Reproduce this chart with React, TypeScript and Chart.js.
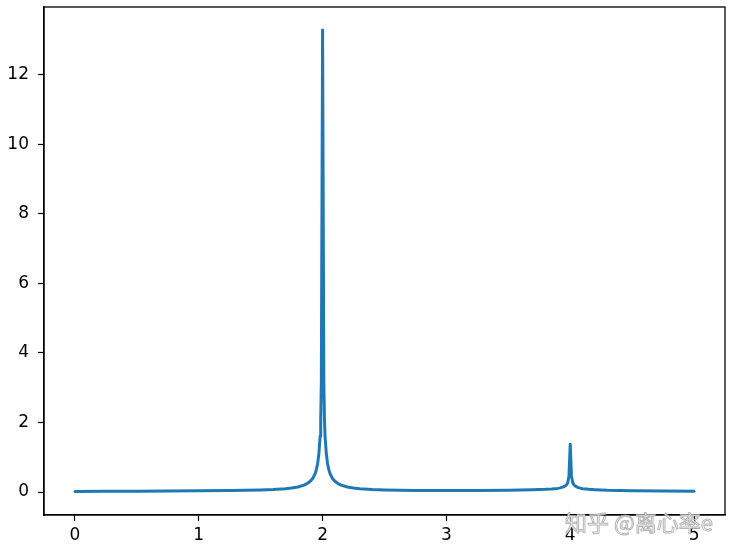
import React, { useEffect, useRef } from "react";
import { Chart, registerables } from "chart.js";

Chart.register(...registerables);

const xValues = [
  0, 0.25, 0.5, 0.75, 1.0, 1.25, 1.5, 1.6, 1.7, 1.75, 1.8, 1.85, 1.875, 1.9, 1.92, 1.94, 1.95, 1.96, 1.97, 1.98,
  1.985, 1.99, 2.0, 2.01, 2.015, 2.02, 2.03, 2.04, 2.05, 2.06, 2.08, 2.1, 2.125, 2.15, 2.2, 2.25,
  2.3, 2.4, 2.5, 2.75, 3.0, 3.25, 3.5, 3.6, 3.7, 3.8, 3.85, 3.9, 3.92, 3.94, 3.96, 3.97, 3.98, 3.99, 4.0,
  4.01, 4.02, 4.03, 4.04, 4.06, 4.08, 4.1, 4.15, 4.2, 4.3, 4.5, 4.75, 5.0,
];
const yValues = [
  0.018, 0.02, 0.023, 0.027, 0.035, 0.043, 0.057, 0.07, 0.095, 0.115, 0.145, 0.2, 0.24, 0.31, 0.39, 0.53, 0.65,
  0.82, 1.1, 1.6, 2.1, 3.2, 13.28, 3.2, 2.1, 1.6, 1.1, 0.82, 0.65, 0.53, 0.39, 0.31, 0.24, 0.2, 0.145,
  0.115, 0.095, 0.072, 0.06, 0.047, 0.043, 0.045, 0.052, 0.057, 0.064, 0.077, 0.088, 0.105, 0.12, 0.14, 0.175,
  0.21, 0.27, 0.47, 1.37, 0.47, 0.27, 0.21, 0.175, 0.135, 0.112, 0.097, 0.077, 0.066, 0.051, 0.039,
  0.031, 0.026,
];
const xTicks = [0, 1, 2, 3, 4, 5];
const yTicks = [0, 2, 4, 6, 8, 10, 12];
const watermark = "知乎 @离心率e";

export default function App() {
  const ref = useRef<HTMLCanvasElement>(null);
  useEffect(() => {
    document.body.style.margin = "0";
    const ctx = ref.current!;
    const framePlugin = {
      id: "frame",
      afterDatasetsDraw(chart: any) {
        const { ctx, chartArea } = chart;
        ctx.save();
        ctx.strokeStyle = "#000";
        ctx.lineWidth = 1.3;
        ctx.strokeRect(chartArea.left, chartArea.top, chartArea.right - chartArea.left, chartArea.bottom - chartArea.top);
        ctx.restore();
      },
      afterDraw(chart: any) {
        const { ctx } = chart;
        ctx.save();
        ctx.font = '22px "Noto Sans CJK SC"';
        ctx.textBaseline = "alphabetic";
        ctx.textAlign = "left";
        ctx.lineWidth = 1;
        ctx.strokeStyle = "rgba(150,150,150,0.7)";
        ctx.fillStyle = "rgba(255,255,255,0.9)";
        ctx.fillText(watermark, 565, 531);
        ctx.strokeText(watermark, 565, 531);
        ctx.restore();
      },
    };
    const chart = new Chart(ctx, {
      type: "scatter",
      data: {
        datasets: [
          {
            data: xValues.map((x, i) => ({ x, y: yValues[i] })),
            showLine: true,
            borderColor: "#1f77b4",
            backgroundColor: "#1f77b4",
            borderWidth: 3,
            borderJoinStyle: "round",
            borderCapStyle: "round",
            pointRadius: 0,
            tension: 0,
          },
        ],
      },
      options: {
        animation: false,
        responsive: false,
        maintainAspectRatio: false,
        layout: { padding: { top: 7, right: 6, left: 0, bottom: 0 } },
        plugins: { legend: { display: false }, tooltip: { enabled: false } },
        scales: {
          x: {
            type: "linear",
            min: -0.25,
            max: 5.25,
            afterBuildTicks: (axis: any) => {
              axis.ticks = xTicks.map((v) => ({ value: v }));
            },
            afterFit: (axis: any) => {
              axis.height = 38;
              axis.paddingLeft = 0;
              axis.paddingRight = 0;
            },
            grid: { drawOnChartArea: false, drawTicks: true, tickLength: 6, color: "#000", tickWidth: 1.2 },
            border: { display: true, color: "#000", width: 1.3 },
            ticks: {
              color: "#000",
              font: { family: "DejaVu Sans", size: 17 },
              padding: 4,
              maxRotation: 0,
              autoSkip: false,
            },
          },
          y: {
            type: "linear",
            min: -0.66,
            max: 13.94,
            afterBuildTicks: (axis: any) => {
              axis.ticks = yTicks.map((v) => ({ value: v }));
            },
            afterFit: (axis: any) => {
              axis.width = 44;
              axis.paddingTop = 0;
              axis.paddingBottom = 0;
            },
            grid: { drawOnChartArea: false, drawTicks: true, tickLength: 6, color: "#000", tickWidth: 1.2 },
            border: { display: true, color: "#000", width: 1.3 },
            ticks: {
              color: "#000",
              font: { family: "DejaVu Sans", size: 17 },
              padding: 9,
              autoSkip: false,
            },
          },
        },
      },
      plugins: [framePlugin],
    });
    return () => chart.destroy();
  }, []);
  return (
    <div style={{ width: 731, height: 553, position: "relative", background: "#fff" }}>
      <canvas ref={ref} width={731} height={553} style={{ width: 731, height: 553, display: "block" }} />
    </div>
  );
}
